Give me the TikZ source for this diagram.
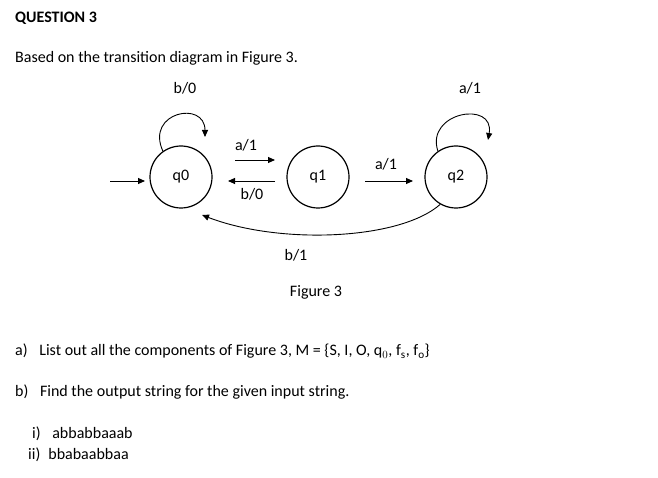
\documentclass[tikz,border=0pt]{standalone}
\usepackage{fontspec}
\setmainfont{Carlito}
\usetikzlibrary{arrows.meta}
\begin{document}
\begin{tikzpicture}[x=1pt,y=-1pt,
  txt/.style={anchor=west,inner sep=0,font=\fontsize{16}{18}\selectfont},
  lbl/.style={inner sep=0,font=\fontsize{16}{18}\selectfont},
  st/.style={circle,draw,line width=1.2pt,minimum size=62pt,inner sep=0,font=\fontsize{16}{18}\selectfont},
  ar/.style={line width=0.9pt,-{Triangle[length=7pt,width=6pt]}}]
\useasboundingbox[fill=white] (0,0) rectangle (658,478);
\node[txt,font=\bfseries\fontsize{16}{18}\selectfont] (t1) at (15,18) {QUESTION 3};
\node[txt] (t2) at (15,58) {Based on the transition diagram in Figure 3.};
\node[st] (q0) at (181,177) {q0};
\node[st] (q1) at (318,177) {q1};
\node[st] (q2) at (456,177) {q2};
\coordinate (s) at (110,181);
\draw[ar] (s) -- (145,181);
\draw[ar] (q0.125) .. controls (145,112) and (205,100) .. (205,137);
\node[lbl] (l0) at (185,88) {b/0};
\draw[ar] (q2.125) .. controls (425,112) and (495,100) .. (488,140);
\node[lbl] (l2) at (470,88) {a/1};
\coordinate (a1s) at (235,160); \coordinate (a1e) at (275,160);
\draw[ar] (a1s) -- (a1e);
\node[lbl] (la1) at (246,145) {a/1};
\coordinate (b0s) at (275,181); \coordinate (b0e) at (228,181);
\draw[ar] (b0s) -- (b0e);
\node[lbl] (lb0) at (252,194) {b/0};
\coordinate (a2s) at (365,181); \coordinate (a2e) at (413,181);
\draw[ar] (a2s) -- (a2e);
\node[lbl] (la2) at (386,164) {a/1};
\draw[ar] (q2.240) .. controls (400,240) and (280,245) .. (202,215);
\node[lbl] (lb1) at (296,255) {b/1};
\node[lbl] (fig) at (316,292) {Figure 3};
\node[txt] (qa) at (15,351) {a)\enspace\ List out all the components of Figure 3, M = \{S, I, O, q$_0$, f$_\mathrm{s}$, f$_\mathrm{o}$\}};
\node[txt] (qb) at (15,392) {b)\enspace\ Find the output string for the given input string.};
\node[txt] (i1) at (32,434) {i)\enspace\ abbabbaaab};
\node[txt] (i2) at (28,455) {ii)\enspace bbabaabbaa};
\end{tikzpicture}
\end{document}
